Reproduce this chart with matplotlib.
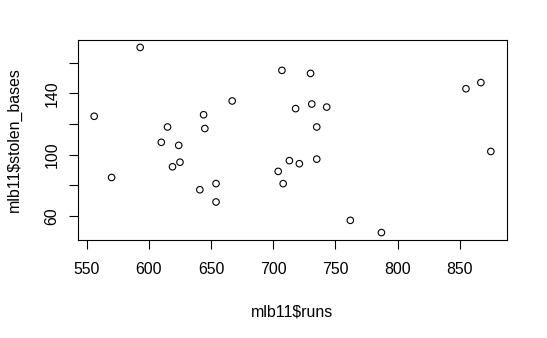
import numpy as np
import matplotlib.pyplot as plt

plt.rcParams['font.family'] = ['Liberation Sans', 'DejaVu Sans']

# mlb11: runs vs stolen bases per team
teams = ["Texas Rangers", "Boston Red Sox", "Detroit Tigers", "Kansas City Royals",
         "St. Louis Cardinals", "New York Yankees", "Milwaukee Brewers", "Colorado Rockies",
         "Toronto Blue Jays", "Arizona Diamondbacks", "Los Angeles Angels", "Cincinnati Reds",
         "Cleveland Indians", "Baltimore Orioles", "Chicago Cubs", "Philadelphia Phillies",
         "Tampa Bay Rays", "Florida Marlins", "Minnesota Twins", "Chicago White Sox",
         "Houston Astros", "Atlanta Braves", "Oakland Athletics", "Washington Nationals",
         "New York Mets", "San Diego Padres", "Pittsburgh Pirates", "Los Angeles Dodgers",
         "Seattle Mariners", "San Francisco Giants"]
runs = [855, 875, 787, 730, 762, 867, 721, 735, 743, 731, 667, 735, 704, 708, 654,
        713, 707, 625, 619, 654, 615, 641, 645, 624, 718, 593, 610, 644, 556, 570]
stolen_bases = [143, 102, 49, 153, 57, 147, 94, 118, 131, 133, 135, 97, 89, 81, 69,
                96, 155, 95, 92, 81, 118, 77, 117, 106, 130, 170, 108, 126, 125, 85]

x_ticks = [550, 600, 650, 700, 750, 800, 850]
y_ticks = [60, 80, 100, 120, 140, 160]
y_ticklabels = ["60", "", "100", "", "140", ""]

fig = plt.figure(figsize=(5.47, 3.38), dpi=100)
ax = fig.add_axes([78.3 / 547, 1 - 240 / 338, (506.7 - 78.3) / 547, 200 / 338])

ax.scatter(runs, stolen_bases, s=22, facecolors='none', edgecolors='black', linewidths=0.8)

x = np.array(runs)
y = np.array(stolen_bases)
xpad = (x.max() - x.min()) * 0.04
ypad = (y.max() - y.min()) * 0.04
ax.set_xlim(x.min() - xpad, x.max() + xpad)
ax.set_ylim(y.min() - ypad, y.max() + ypad)

ax.set_xticks(x_ticks)
ax.set_yticks(y_ticks)
ax.set_yticklabels(y_ticklabels, rotation=90, va='center')
ax.tick_params(length=6.5, width=0.8, labelsize=11.4, color='black')
ax.tick_params(axis='x', pad=9)
ax.tick_params(axis='y', pad=7)
for s in ax.spines.values():
    s.set_linewidth(0.8)

ax.set_xlabel("mlb11$runs", fontsize=11.4, labelpad=20)
ax.set_ylabel("mlb11$stolen_bases", fontsize=11.4, labelpad=16)

fig.savefig("out.png", dpi=100)
